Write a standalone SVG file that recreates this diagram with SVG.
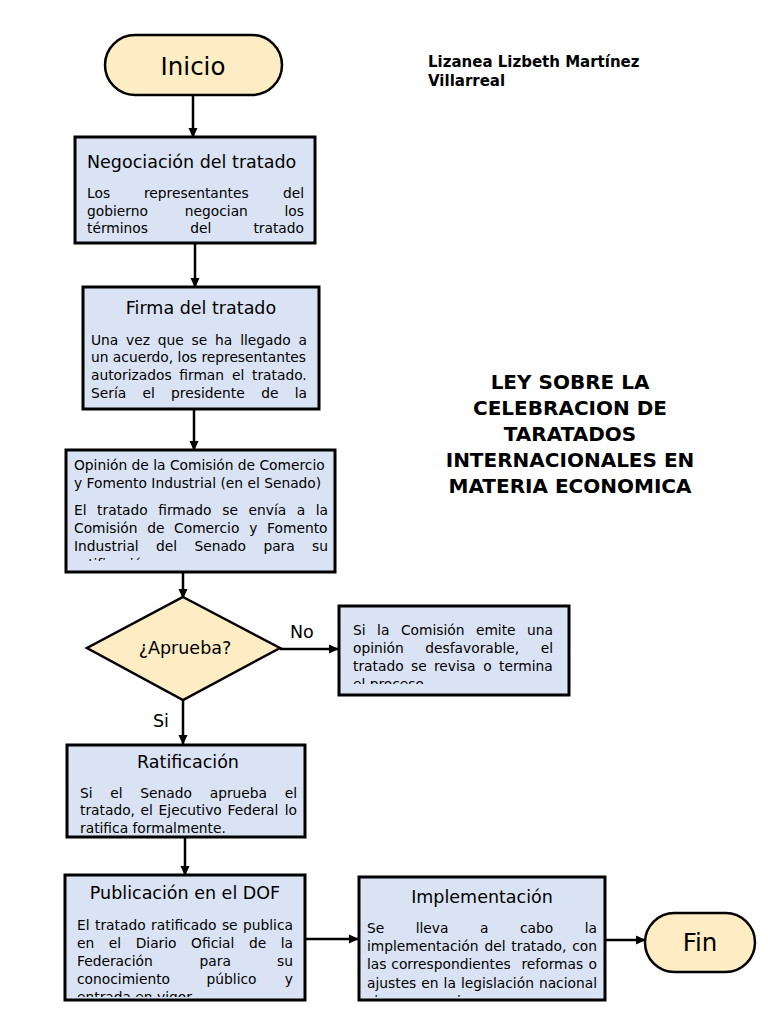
<svg xmlns="http://www.w3.org/2000/svg" width="768" height="1024" viewBox="0 0 768 1024">
<style>
  text { font-family: "DejaVu Sans", "Noto Sans", sans-serif; fill: #000; }
  .term { fill: #fdecc4; stroke: #000; stroke-width: 2.5; }
  .box { fill: #dae3f3; stroke: #000; stroke-width: 3; }
  .dec { fill: #fdecc4; stroke: #000; stroke-width: 2.5; }
  .big { font-size: 24.5px; }
  .ttl { font-size: 17.5px; }
  .bd { font-size: 13.8px; }
  .lbl { font-size: 17.5px; }
  .conn line { stroke: #000; stroke-width: 2.5; marker-end: url(#arr); }
  .hdr { font-weight: bold; }
</style>
<defs>
  <marker id="arr" markerUnits="userSpaceOnUse" markerWidth="10" markerHeight="10" refX="9" refY="5" orient="auto">
    <path d="M0,0.5 L10,5 L0,9.5 z" fill="#000"/>
  </marker>
  <clipPath id="cOp"><rect x="66" y="450" width="270" height="111"/></clipPath>
  <clipPath id="cNo"><rect x="339" y="606" width="230" height="78"/></clipPath>
  <clipPath id="cPub"><rect x="65" y="875" width="240" height="122"/></clipPath>
  <clipPath id="cImp"><rect x="359" y="877" width="246" height="121"/></clipPath>
</defs>

<g id="author" font-size="15">
  <text class="hdr" x="428" y="67">Lizanea Lizbeth Martínez</text>
  <text class="hdr" x="428" y="86">Villarreal</text>
</g>

<g id="title" font-size="20" text-anchor="middle">
  <text class="hdr" x="570" y="389">LEY SOBRE LA</text>
  <text class="hdr" x="570" y="415">CELEBRACION DE</text>
  <text class="hdr" x="570" y="441">TARATADOS</text>
  <text class="hdr" x="570" y="467">INTERNACIONALES EN</text>
  <text class="hdr" x="570" y="493">MATERIA ECONOMICA</text>
</g>

<g class="conn" id="connectors">
  <line x1="193" y1="95" x2="193" y2="137"/>
  <line x1="195" y1="243" x2="195" y2="287"/>
  <line x1="194" y1="409" x2="194" y2="450"/>
  <line x1="183" y1="572" x2="183" y2="598"/>
  <line x1="280" y1="649" x2="338" y2="649"/>
  <line x1="183" y1="700" x2="183" y2="744"/>
  <line x1="185" y1="837" x2="185" y2="875"/>
  <line x1="305" y1="939" x2="358" y2="939"/>
  <line x1="605" y1="940" x2="645" y2="940"/>
  <text class="lbl" x="290" y="638">No</text>
  <text class="lbl" x="153" y="727">Si</text>
</g>

<g id="inicio">
  <rect class="term" x="105" y="35" width="177" height="60" rx="30"/>
  <text class="big" x="193" y="75" text-anchor="middle">Inicio</text>
</g>

<g id="negociacion">
  <rect class="box" x="75" y="137" width="240" height="106"/>
  <text class="ttl" x="87" y="168">Negociación del tratado</text>
  <text class="bd" y="198"><tspan x="87">Los</tspan><tspan x="144.0">representantes</tspan><tspan x="282.9">del</tspan></text>
  <text class="bd" y="216"><tspan x="87">gobierno</tspan><tspan x="184.8">negocian</tspan><tspan x="284.5">los</tspan></text>
  <text class="bd" y="233"><tspan x="87">términos</tspan><tspan x="190.3">del</tspan><tspan x="253.4">tratado</tspan></text>
</g>

<g id="firma">
  <rect class="box" x="83" y="287" width="236" height="122"/>
  <text class="ttl" x="201" y="314" text-anchor="middle">Firma del tratado</text>
  <text class="bd" y="345"><tspan x="91">Una</tspan><tspan x="126.1">vez</tspan><tspan x="157.8">que</tspan><tspan x="191.6">se</tspan><tspan x="215.1">ha</tspan><tspan x="240.2">llegado</tspan><tspan x="298.6">a</tspan></text>
  <text class="bd" x="91" y="362">un acuerdo, los representantes</text>
  <text class="bd" y="380"><tspan x="91">autorizados</tspan><tspan x="179.3">firman</tspan><tspan x="232.0">el</tspan><tspan x="252.0">tratado.</tspan></text>
  <text class="bd" y="398"><tspan x="91">Sería</tspan><tspan x="142.5">el</tspan><tspan x="171.1">presidente</tspan><tspan x="261.2">de</tspan><tspan x="294.7">la</tspan></text>
</g>

<g id="opinion">
  <rect class="box" x="66" y="450" width="269" height="122"/>
  <text class="bd" x="74" y="470">Opinión de la Comisión de Comercio</text>
  <text class="bd" x="74" y="488">y Fomento Industrial (en el Senado)</text>
  <text class="bd" y="515"><tspan x="74">El</tspan><tspan x="97.1">tratado</tspan><tspan x="158.2">firmado</tspan><tspan x="222.3">se</tspan><tspan x="248.5">envía</tspan><tspan x="296.7">a</tspan><tspan x="315.7">la</tspan></text>
  <text class="bd" y="533"><tspan x="74">Comisión</tspan><tspan x="147.2">de</tspan><tspan x="174.1">Comercio</tspan><tspan x="249.3">y</tspan><tspan x="267.1">Fomento</tspan></text>
  <text class="bd" y="551"><tspan x="74">Industrial</tspan><tspan x="156.0">del</tspan><tspan x="194.4">Senado</tspan><tspan x="263.4">para</tspan><tspan x="312.1">su</tspan></text>
  <g clip-path="url(#cOp)">
  <text class="bd" x="74" y="569">ratificación.</text>
  </g>
</g>

<g id="aprueba">
  <polygon class="dec" points="183,597 280,648 183,700 87,648"/>
  <text class="lbl" x="185" y="654" text-anchor="middle">¿Aprueba?</text>
</g>

<g id="no-box">
  <rect class="box" x="339" y="606" width="230" height="89"/>
  <text class="bd" y="635"><tspan x="353">Si</tspan><tspan x="377.1">la</tspan><tspan x="400.9">Comisión</tspan><tspan x="475.9">emite</tspan><tspan x="527.0">una</tspan></text>
  <text class="bd" y="653"><tspan x="353">opinión</tspan><tspan x="425.3">desfavorable,</tspan><tspan x="540.7">el</tspan></text>
  <text class="bd" y="671"><tspan x="353">tratado</tspan><tspan x="411.0">se</tspan><tspan x="434.0">revisa</tspan><tspan x="483.2">o</tspan><tspan x="499.0">termina</tspan></text>
  <g clip-path="url(#cNo)">
  <text class="bd" x="353" y="689">el proceso.</text>
  </g>
</g>

<g id="ratificacion">
  <rect class="box" x="67" y="745" width="238" height="92"/>
  <text class="ttl" x="188" y="768" text-anchor="middle">Ratificación</text>
  <text class="bd" y="798"><tspan x="80">Si</tspan><tspan x="110.3">el</tspan><tspan x="140.3">Senado</tspan><tspan x="209.7">aprueba</tspan><tspan x="284.7">el</tspan></text>
  <text class="bd" y="815"><tspan x="80">tratado,</tspan><tspan x="140.6">el</tspan><tspan x="158.6">Ejecutivo</tspan><tspan x="227.5">Federal</tspan><tspan x="284.7">lo</tspan></text>
  <text class="bd" x="80" y="833">ratifica formalmente.</text>
</g>

<g id="publicacion">
  <rect class="box" x="65" y="875" width="240" height="125"/>
  <text class="ttl" x="185" y="899" text-anchor="middle">Publicación en el DOF</text>
  <text class="bd" y="930"><tspan x="77">El</tspan><tspan x="95.0">tratado</tspan><tspan x="151.1">ratificado</tspan><tspan x="221.9">se</tspan><tspan x="243.0">publica</tspan></text>
  <text class="bd" y="948"><tspan x="77">en</tspan><tspan x="108.8">el</tspan><tspan x="135.7">Diario</tspan><tspan x="191.1">Oficial</tspan><tspan x="248.9">de</tspan><tspan x="280.7">la</tspan></text>
  <text class="bd" y="966"><tspan x="77">Federación</tspan><tspan x="199.6">para</tspan><tspan x="277.1">su</tspan></text>
  <text class="bd" y="984"><tspan x="77">conocimiento</tspan><tspan x="206.6">público</tspan><tspan x="284.8">y</tspan></text>
  <g clip-path="url(#cPub)">
  <text class="bd" x="77" y="1002">entrada en vigor.</text>
  </g>
</g>

<g id="implementacion">
  <rect class="box" x="359" y="877" width="246" height="123"/>
  <text class="ttl" x="482" y="903" text-anchor="middle">Implementación</text>
  <text class="bd" y="933"><tspan x="367">Se</tspan><tspan x="415.7">lleva</tspan><tspan x="480.0">a</tspan><tspan x="520.0">cabo</tspan><tspan x="584.7">la</tspan></text>
  <text class="bd" y="951"><tspan x="367">implementación</tspan><tspan x="484.4">del</tspan><tspan x="511.3">tratado,</tspan><tspan x="572.2">con</tspan></text>
  <text class="bd" y="969"><tspan x="367">las</tspan><tspan x="391.3">correspondientes</tspan><tspan x="521.5">reformas</tspan><tspan x="588.5">o</tspan></text>
  <text class="bd" y="988"><tspan x="367">ajustes</tspan><tspan x="421.3">en</tspan><tspan x="443.6">la</tspan><tspan x="460.9">legislación</tspan><tspan x="538.9">nacional</tspan></text>
  <g clip-path="url(#cImp)">
  <text class="bd" x="367" y="1006">si es necesario.</text>
  </g>
</g>

<g id="fin">
  <rect class="term" x="645" y="913" width="110" height="59" rx="29.5"/>
  <text class="big" x="700" y="951" text-anchor="middle">Fin</text>
</g>
</svg>
